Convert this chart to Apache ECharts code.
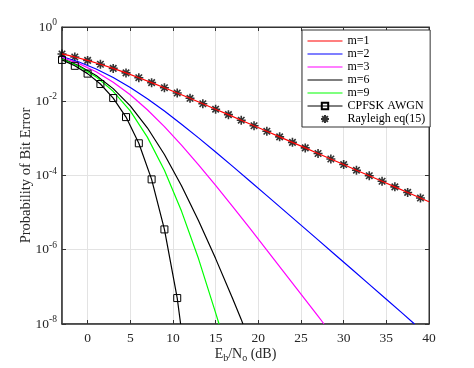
<!DOCTYPE html>
<html>
<head>
<meta charset="utf-8">
<script src="https://cdn.jsdelivr.net/npm/echarts@6/dist/echarts.min.js"></script>
<style>html,body{margin:0;padding:0;background:#fff}#c{width:474px;height:368px}</style>
</head>
<body>
<div id="c"></div>
<script>
// ---- data ----
const seriesNames = ['m=1', 'm=2', 'm=3', 'm=6', 'm=9', 'CPFSK AWGN', 'Rayleigh eq(15)'];
const xTickLabels = ['0', '5', '10', '15', '20', '25', '30', '35', '40'];
const yTickExponents = [0, -2, -4, -6, -8];

const m1X = [-3, -1.5, 0, 1.5, 3, 4.5, 6, 7.5, 9, 10.5, 12, 13.5, 15, 16.5, 18, 19.5, 21, 22.5, 24, 25.5, 27, 28.5, 30, 31.5, 33, 34.5, 36, 37.5, 39, 40];
const m1Y = [0.188, 0.156, 0.126, 0.0993, 0.0766, 0.0580, 0.0431, 0.0317, 0.0231, 0.0167, 0.0120, 0.00857, 0.00611, 0.00435, 0.00309, 0.00219, 0.00156, 0.00110, 7.81e-4, 5.54e-4, 3.92e-4, 2.78e-4, 1.97e-4, 1.39e-4, 9.86e-5, 6.98e-5, 4.94e-5, 3.50e-5, 2.48e-5, 1.97e-5];

const m2X = [-3, -1, 1, 3, 5, 7, 9, 11, 13, 15, 17, 19, 21, 23, 25, 27, 29, 31, 33, 35, 37, 38.3];
const m2Y = [0.161, 0.114, 0.0741, 0.0438, 0.0236, 0.0117, 0.00545, 0.00241, 0.00103, 4.29e-4, 1.76e-4, 7.13e-5, 2.87e-5, 1.15e-5, 4.61e-6, 1.84e-6, 7.35e-7, 2.93e-7, 1.17e-7, 4.65e-8, 1.85e-8, 1e-8];

const m3X = [-3, -1, 1, 3, 5, 7, 9, 11, 13, 15, 17, 19, 21, 23, 25, 27, 27.7];
const m3Y = [0.151, 0.103, 0.0620, 0.0327, 0.0149, 0.00591, 0.00207, 6.57e-4, 1.93e-4, 5.39e-5, 1.45e-5, 3.81e-6, 9.83e-7, 2.51e-7, 6.39e-8, 1.62e-8, 1e-8];

const m6X = [-3, -1, 1, 3, 5, 7, 9, 11, 13, 15, 17, 18, 18.2];
const m6Y = [0.141, 0.0905, 0.0495, 0.0219, 0.00753, 0.00193, 3.69e-4, 5.32e-5, 6.08e-6, 5.77e-7, 4.79e-8, 1.33e-8, 1e-8];

const m9X = [-3, -1, 1, 3, 5, 7, 9, 11, 13, 15, 15.4];
const m9Y = [0.137, 0.0863, 0.0453, 0.0185, 0.0055, 0.00108, 1.38e-4, 1.1e-5, 5.7e-7, 2.0e-8, 1e-8];

const awgnX = [-3, -1.5, 0, 1.5, 3, 4.5, 6, 7.5, 9, 10.5, 10.9];
const awgnY = [0.130, 0.0900, 0.0555, 0.0291, 0.0122, 0.00374, 7.37e-4, 7.87e-5, 3.53e-6, 5.0e-8, 1e-8];

const rayleighX = [-3, -1.5, 0, 1.5, 3, 4.5, 6, 7.5, 9, 10.5, 12, 13.5, 15, 16.5, 18, 19.5, 21, 22.5, 24, 25.5, 27, 28.5, 30, 31.5, 33, 34.5, 36, 37.5, 39];
const rayleighY = [0.188, 0.156, 0.126, 0.0993, 0.0766, 0.0580, 0.0431, 0.0317, 0.0231, 0.0167, 0.0120, 0.00857, 0.00611, 0.00435, 0.00309, 0.00219, 0.00156, 0.00110, 7.81e-4, 5.54e-4, 3.92e-4, 2.78e-4, 1.97e-4, 1.39e-4, 9.86e-5, 6.98e-5, 4.94e-5, 3.50e-5, 2.48e-5];

// ---- build ----
const zip = (xs, ys) => xs.map((x, i) => [x, ys[i]]);
const FONT = 'Liberation Serif';
const AXIS_COLOR = '#333333';
const GRID_COLOR = '#e3e3e3';
const starPath = 'path://M0,-10L0,10M-10,0L10,0M-7.2,-7.2L7.2,7.2M-7.2,7.2L7.2,-7.2';
const legendLinePath = 'path://M0,0L35,0L35,1.2L0,1.2Z';

function lineSeries(name, xs, ys, color) {
  return {
    name, type: 'line', data: zip(xs, ys), symbol: 'none', showSymbol: false,
    lineStyle: { color, width: 1.2 }, itemStyle: { color }, clip: true, animation: false
  };
}

const awgnData = zip(awgnX, awgnY).map((p, i) =>
  i === awgnX.length - 1 ? { value: p, symbol: 'none' } : { value: p });

const legendData = seriesNames.map((n, i) => (i < 5 ? { name: n, icon: legendLinePath } : { name: n }));

const chart = echarts.init(document.getElementById('c'), null, { renderer: 'canvas' });
chart.setOption({
  animation: false,
  backgroundColor: '#ffffff',
  grid: { left: 62, right: 45, top: 27, bottom: 44, show: true, borderColor: AXIS_COLOR, borderWidth: 1, backgroundColor: 'transparent' },
  xAxis: [{
    type: 'value', min: -3, max: 40, splitNumber: 8, minInterval: 5, maxInterval: 5,
    position: 'bottom',
    axisLine: { show: true, onZero: false, lineStyle: { color: AXIS_COLOR, width: 1.5 } },
    axisTick: { show: true, inside: true, length: 4, lineStyle: { color: AXIS_COLOR } },
    splitLine: { show: true, lineStyle: { color: GRID_COLOR, width: 1 } },
    axisLabel: {
      margin: 7, fontFamily: FONT, fontSize: 13.5, color: '#262626', showMinLabel: false,
      formatter: v => (xTickLabels.indexOf(String(v)) >= 0 ? String(v) : '')
    },
    name: 'E{sub|b}/N{sub|o} (dB)', nameLocation: 'middle', nameGap: 21, nameMoveOverlap: false,
    nameTextStyle: {
      fontFamily: FONT, fontSize: 14, color: '#262626',
      rich: { sub: { fontFamily: FONT, fontSize: 10, color: '#262626', verticalAlign: 'bottom', padding: [8, 0, 0, 0] } }
    }
  }, {
    type: 'value', min: -3, max: 40, splitNumber: 8, minInterval: 5, maxInterval: 5,
    position: 'top',
    axisLine: { show: true, onZero: false, lineStyle: { color: AXIS_COLOR, width: 1 } },
    axisTick: { show: true, inside: true, length: 4, lineStyle: { color: AXIS_COLOR } },
    splitLine: { show: false }, axisLabel: { show: false }
  }],
  yAxis: [{
    type: 'log', logBase: 100, min: 1e-8, max: 1, splitNumber: 4,
    axisLine: { show: true, onZero: false, lineStyle: { color: AXIS_COLOR, width: 1.5 } },
    axisTick: { show: true, inside: true, length: 4, lineStyle: { color: AXIS_COLOR } },
    minorTick: { show: false },
    splitLine: { show: true, lineStyle: { color: GRID_COLOR, width: 1 } },
    axisLabel: {
      margin: 5, fontFamily: FONT, fontSize: 13.5, color: '#262626',
      formatter: v => {
        const e = Math.round(Math.log10(v));
        return yTickExponents.indexOf(e) >= 0 ? '10{sup|' + e + '}' : '';
      },
      rich: { sup: { fontFamily: FONT, fontSize: 9.5, color: '#262626', verticalAlign: 'top', padding: [0, 0, 9, 0] } }
    },
    name: 'Probability of Bit Error', nameLocation: 'middle', nameGap: 28, nameMoveOverlap: false,
    nameTextStyle: { fontFamily: FONT, fontSize: 14.5, color: '#262626' }
  }, {
    type: 'log', logBase: 100, min: 1e-8, max: 1, splitNumber: 4, position: 'right',
    axisLine: { show: true, onZero: false, lineStyle: { color: AXIS_COLOR, width: 1 } },
    axisTick: { show: true, inside: true, length: 4, lineStyle: { color: AXIS_COLOR } },
    splitLine: { show: false }, axisLabel: { show: false }
  }],
  legend: {
    orient: 'vertical', left: 302, top: 30,
    itemWidth: 35, itemHeight: 8, itemGap: 1,
    padding: [5, 5, 2, 5],
    borderColor: AXIS_COLOR, borderWidth: 1, backgroundColor: '#ffffff', borderRadius: 0,
    textStyle: { fontFamily: FONT, fontSize: 12, color: '#000', lineHeight: 12 },
    lineStyle: { width: 1 },
    data: legendData
  },
  series: [
    lineSeries(seriesNames[0], m1X, m1Y, '#ff0000'),
    lineSeries(seriesNames[1], m2X, m2Y, '#0000ff'),
    lineSeries(seriesNames[2], m3X, m3Y, '#ff00ff'),
    lineSeries(seriesNames[3], m6X, m6Y, '#000000'),
    lineSeries(seriesNames[4], m9X, m9Y, '#00ff00'),
    {
      name: seriesNames[5], type: 'line', data: awgnData,
      symbol: 'rect', symbolSize: 7, showSymbol: true, clip: true,
      lineStyle: { color: '#000000', width: 1.2 },
      itemStyle: { color: 'rgba(0,0,0,0)', borderColor: '#000000', borderWidth: 1 }
    },
    {
      name: seriesNames[6], type: 'scatter', data: zip(rayleighX, rayleighY),
      symbol: starPath, symbolSize: 9, clip: true,
      itemStyle: { color: '#000000', borderColor: '#000000', borderWidth: 1.6 }
    }
  ]
});
</script>
</body>
</html>
